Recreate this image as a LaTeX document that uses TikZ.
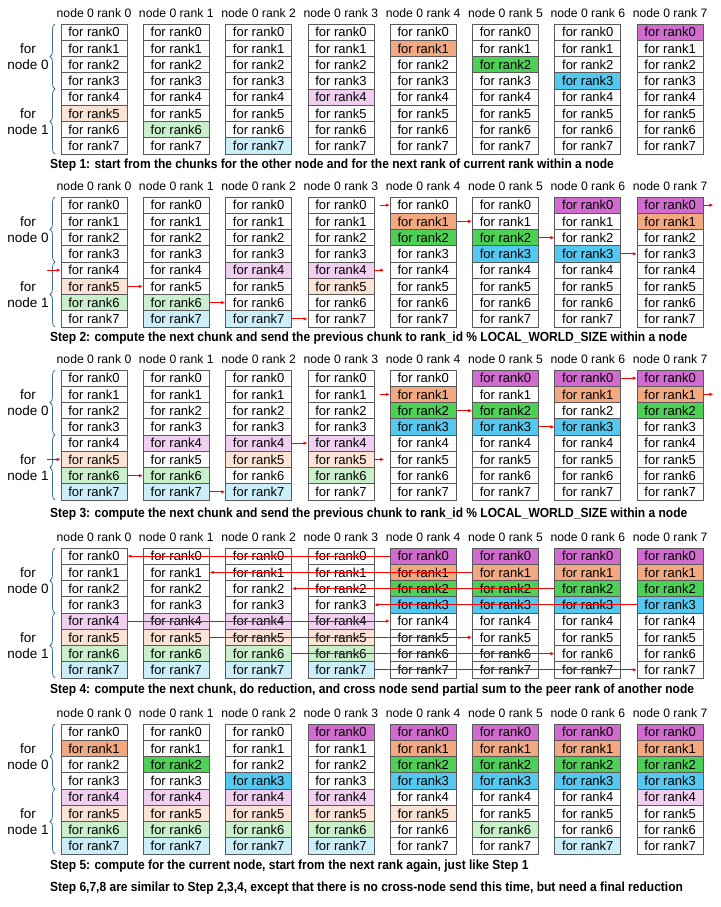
\documentclass[tikz,border=0pt]{standalone}
\usepackage{fontspec}
\setmainfont{Liberation Sans}
\usetikzlibrary{calc,decorations.pathreplacing,arrows.meta}
\definecolor{r0}{HTML}{D26BCF}
\definecolor{r1}{HTML}{F2A982}
\definecolor{r2}{HTML}{4ECF55}
\definecolor{r3}{HTML}{55C8EF}
\definecolor{r4}{HTML}{F0CFF0}
\definecolor{r5}{HTML}{FBE3D6}
\definecolor{r6}{HTML}{C9EFCB}
\definecolor{r7}{HTML}{CBEEF9}
\definecolor{brc}{HTML}{41719C}
\begin{document}
\begin{tikzpicture}[x=1pt,y=-1pt,
  cell/.style={draw=black!65,line width=0.7pt,minimum width=66pt,minimum height=16.25pt,inner sep=0pt,font=\fontsize{13}{14}\selectfont},
  hdr/.style={font=\fontsize{12.2}{14}\selectfont,inner sep=0pt},
  steptxt/.style={font=\bfseries\fontsize{13.2}{14}\selectfont,anchor=west,inner sep=0pt,transform shape,xscale=0.91},
  lbl/.style={font=\fontsize{13.5}{16}\selectfont,align=center,inner sep=0pt},
  brc/.style={draw=brc,line width=0.8pt,decorate,decoration={brace,amplitude=5pt,mirror}},
  arr/.style={draw=red,line width=0.8pt,-{Latex[length=4pt,width=3.5pt]}}]
\useasboundingbox[fill=white] (0,0) rectangle (720,907);
\foreach \p/\y in {1/24,2/197,3/370,4/548,5/724}{
  \foreach \c in {0,...,7}{
    \node[hdr] (h\p c\c) at ({94+82.3*\c},\y-11) {node 0 rank \c};
    \foreach \r in {0,...,7}
      \node[cell] (p\p c\c r\r) at ({94+82.3*\c},{\y+8.125+16.25*\r}) {for rank\r};
  }
  \draw[brc] (55,\y) -- (55,\y+65);
  \draw[brc] (55,\y+65) -- (55,\y+130);
  \node[lbl] (n0\p) at (28,\y+32.5) {for\\node 0};
  \node[lbl] (n1\p) at (28,\y+97.5) {for\\node 1};
}
\newcommand{\fc}[2]{\foreach \c/\r in {#2} \node[cell,fill=r\r] (f#1c\c r\r) at (p#1c\c r\r) {for rank\r};}
\fc{1}{0/5,1/6,2/7,3/4,4/1,5/2,6/3,7/0}
\fc{2}{0/5,0/6,1/6,1/7,2/4,2/7,3/4,3/5,4/1,4/2,5/2,5/3,6/0,6/3,7/0,7/1}
\fc{3}{0/5,0/6,0/7,1/4,1/6,1/7,2/4,2/5,2/7,3/4,3/5,3/6,4/1,4/2,4/3,5/0,5/2,5/3,6/0,6/1,6/3,7/0,7/1,7/2}
\fc{4}{0/4,0/5,0/6,0/7,1/4,1/5,1/6,1/7,2/4,2/5,2/6,2/7,3/4,3/5,3/6,3/7,4/0,4/1,4/2,4/3,5/0,5/1,5/2,5/3,6/0,6/1,6/2,6/3,7/0,7/1,7/2,7/3}
\fc{5}{0/1,1/2,2/3,3/0,0/4,0/5,0/6,0/7,1/4,1/5,1/6,1/7,2/4,2/5,2/6,2/7,3/4,3/5,3/6,3/7,4/0,4/1,4/2,4/3,5/0,5/1,5/2,5/3,6/0,6/1,6/2,6/3,7/0,7/1,7/2,7/3,4/5,5/6,6/7,7/4}
% step 2 arrows
\coordinate (a2in0) at ($(p2c0r4.west)+(-14,0)$);
\coordinate (a2out0) at ($(p2c3r4.east)+(10,0)$);
\coordinate (a2in1) at ($(p2c4r0.west)+(-10,0)$);
\coordinate (a2out1) at ($(p2c7r0.east)+(10,0)$);
\draw[arr] (a2in0) -- (p2c0r4.west);
\draw[arr] (p2c0r5.east) -- (p2c1r5.west);
\draw[arr] (p2c1r6.east) -- (p2c2r6.west);
\draw[arr] (p2c2r7.east) -- (p2c3r7.west);
\draw[arr] (p2c3r4.east) -- (a2out0);
\draw[arr] (a2in1) -- (p2c4r0.west);
\draw[arr] (p2c4r1.east) -- (p2c5r1.west);
\draw[arr] (p2c5r2.east) -- (p2c6r2.west);
\draw[arr] (p2c6r3.east) -- (p2c7r3.west);
\draw[arr] (p2c7r0.east) -- (a2out1);
% step 3 arrows
\coordinate (a3in0) at ($(p3c0r5.west)+(-14,0)$);
\coordinate (a3out0) at ($(p3c3r5.east)+(10,0)$);
\coordinate (a3in1) at ($(p3c4r1.west)+(-10,0)$);
\coordinate (a3out1) at ($(p3c7r1.east)+(10,0)$);
\draw[arr] (a3in0) -- (p3c0r5.west);
\draw[arr] (p3c0r6.east) -- (p3c1r6.west);
\draw[arr] (p3c1r7.east) -- (p3c2r7.west);
\draw[arr] (p3c2r4.east) -- (p3c3r4.west);
\draw[arr] (p3c3r5.east) -- (a3out0);
\draw[arr] (a3in1) -- (p3c4r1.west);
\draw[arr] (p3c4r2.east) -- (p3c5r2.west);
\draw[arr] (p3c5r3.east) -- (p3c6r3.west);
\draw[arr] (p3c6r0.east) -- (p3c7r0.west);
\draw[arr] (p3c7r1.east) -- (a3out1);
% step 4 arrows
\foreach \k [evaluate=\k as \m using int(\k+4)] in {0,1,2,3}{
  \draw[arr] (p4c\m r\k.west) -- (p4c\k r\k.east);
  \draw[arr] (p4c\k r\m.east) -- (p4c\m r\m.west);
}
\node[steptxt] (s1) at (50,165) {Step 1: start from the chunks for the other node and for the next rank of current rank within a node};
\node[steptxt] (s2) at (50,338) {Step 2: compute the next chunk and send the previous chunk to rank\_id \% LOCAL\_WORLD\_SIZE within a node};
\node[steptxt] (s3) at (50,514) {Step 3: compute the next chunk and send the previous chunk to rank\_id \% LOCAL\_WORLD\_SIZE within a node};
\node[steptxt] (s4) at (50,690) {Step 4: compute the next chunk, do reduction, and cross node send partial sum to the peer rank of another node};
\node[steptxt] (s5) at (50,866) {Step 5: compute for the current node, start from the next rank again, just like Step 1};
\node[steptxt] (s6) at (50,888) {Step 6,7,8 are similar to Step 2,3,4, except that there is no cross-node send this time, but need a final reduction};
\end{tikzpicture}
\end{document}
